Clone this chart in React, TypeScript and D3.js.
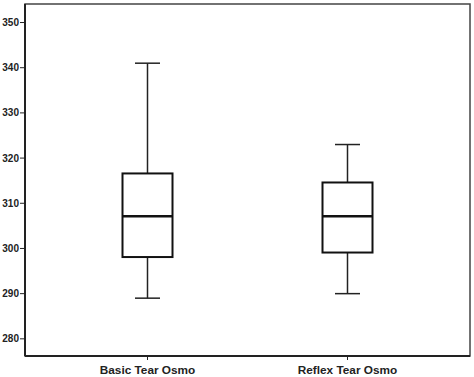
import React from "react";
import * as d3 from "d3";

const categories = ["Basic Tear Osmo", "Reflex Tear Osmo"];
const whiskerLow = [289, 290];
const q1 = [298.1, 299.1];
const median = [307.1, 307.1];
const q3 = [316.6, 314.6];
const whiskerHigh = [341, 323];
const yTicks = [280, 290, 300, 310, 320, 330, 340, 350];

const W = 474;
const H = 377;
const left = 25;
const right = 470;
const top = 4;
const bottom = 356;

export default function App() {
  const x = d3.scalePoint<string>().domain(categories).range([left, right]).padding(0.6125);
  const y = d3.scaleLinear().domain([276.2, 354.1]).range([bottom, top]);
  const boxW = 50;
  const capW = 25;
  return (
    <svg width={W} height={H} style={{ position: "absolute", left: 0, top: 0, background: "#fff" }}>
      <rect x={left} y={top} width={right - left} height={bottom - top} fill="none" stroke="#444" strokeWidth={1.5} />
      <line x1={left} x2={left} y1={top} y2={bottom} stroke="#222" strokeWidth={2} />
      <line x1={left} x2={right} y1={bottom} y2={bottom} stroke="#222" strokeWidth={2} />
      {yTicks.map((t) => (
        <g key={t}>
          <line x1={left - 5} x2={left} y1={y(t)} y2={y(t)} stroke="#222" strokeWidth={1} />
          <text x={left - 6} y={y(t)} dy="0.35em" textAnchor="end" fontFamily="Liberation Sans, Arial, sans-serif" fontWeight="bold" fontSize={10} fill="#222">
            {t}
          </text>
        </g>
      ))}
      {categories.map((c, i) => {
        const cx = x(c) as number;
        return (
          <g key={c}>
            <line x1={cx} x2={cx} y1={bottom} y2={bottom + 4} stroke="#222" strokeWidth={1} />
            <text x={cx} y={370} dy="0.35em" textAnchor="middle" fontFamily="Liberation Sans, Arial, sans-serif" fontWeight="bold" fontSize={11.8} fill="#222">
              {c}
            </text>
            <line x1={cx} x2={cx} y1={y(whiskerHigh[i])} y2={y(q3[i])} stroke="#222" strokeWidth={1.5} />
            <line x1={cx} x2={cx} y1={y(q1[i])} y2={y(whiskerLow[i])} stroke="#222" strokeWidth={1.5} />
            <line x1={cx - capW / 2} x2={cx + capW / 2} y1={y(whiskerHigh[i])} y2={y(whiskerHigh[i])} stroke="#222" strokeWidth={1.5} />
            <line x1={cx - capW / 2} x2={cx + capW / 2} y1={y(whiskerLow[i])} y2={y(whiskerLow[i])} stroke="#222" strokeWidth={1.5} />
            <rect x={cx - boxW / 2} y={y(q3[i])} width={boxW} height={y(q1[i]) - y(q3[i])} fill="none" stroke="#111" strokeWidth={2} />
            <line x1={cx - boxW / 2} x2={cx + boxW / 2} y1={y(median[i])} y2={y(median[i])} stroke="#111" strokeWidth={2.5} />
          </g>
        );
      })}
    </svg>
  );
}
